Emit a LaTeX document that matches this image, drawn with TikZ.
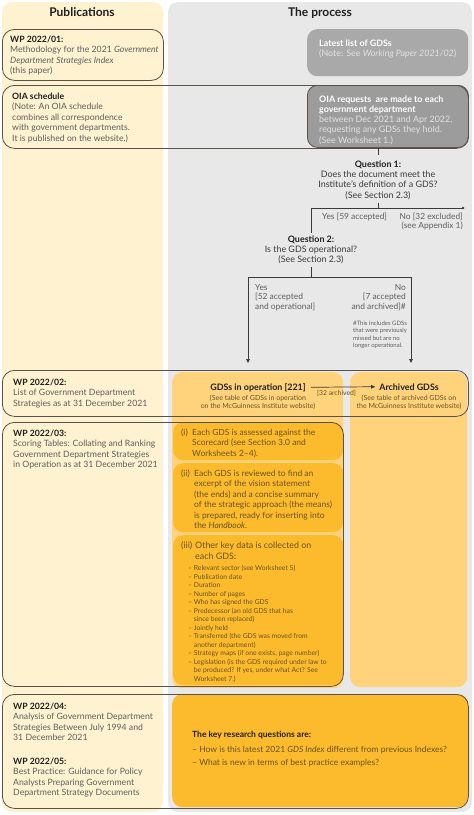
\documentclass[tikz,border=0pt]{standalone}
\usepackage{fontspec}
\setmainfont{Lato}
\usepackage{tikz}
\usetikzlibrary{arrows.meta,positioning}
\definecolor{GdsCream}{HTML}{FEF2D0}
\definecolor{GdsGrey}{HTML}{E8E8E8}
\definecolor{GdsStone}{HTML}{A9A9A9}
\definecolor{GdsSlate}{HTML}{9C9C9C}
\definecolor{GdsMist}{HTML}{E2E2E2}
\definecolor{GdsPale}{HTML}{FFD27C}
\definecolor{GdsAmber}{HTML}{FCBB2C}
\definecolor{GdsLine}{HTML}{5A5248}
\definecolor{GdsInk}{HTML}{1F1F1F}
\definecolor{GdsDark}{HTML}{3A3A3A}
\definecolor{GdsText}{HTML}{5E5E5E}
\definecolor{GdsBrown}{HTML}{6B5224}
\tikzset{
  column/.style={rounded corners=10pt},
  rowbox/.style={rectangle,rounded corners=12pt,draw=GdsLine,line width=0.8pt,anchor=north west},
  greybox/.style={rectangle,rounded corners=10pt,anchor=north west},
  palebox/.style={rectangle,rounded corners=10pt,fill=GdsPale,anchor=north west},
  amberbox/.style={rectangle,rounded corners=10pt,fill=GdsAmber,anchor=north west},
  head/.style={font=\fontsize{12}{14}\selectfont\bfseries,text=GdsInk,anchor=base},
  pubtext/.style={font=\fontsize{8.7}{10.6}\selectfont,text=GdsText,align=left,anchor=base west},
  greytext/.style={font=\fontsize{8.9}{10.3}\selectfont,text=GdsMist,align=left,anchor=base west},
  flowtext/.style={font=\fontsize{8.9}{10.4}\selectfont,text=GdsDark},
  branchtext/.style={font=\fontsize{8.4}{9.9}\selectfont,text=GdsText},
  notetext/.style={font=\fontsize{6}{7.6}\selectfont,text=GdsText,align=left,anchor=base west},
  ophead/.style={font=\fontsize{8.9}{10}\selectfont\bfseries,text=GdsInk,anchor=base},
  opnote/.style={font=\fontsize{7}{8.3}\selectfont,text=GdsBrown,align=center,anchor=base},
  steptext/.style={font=\fontsize{8.5}{10.5}\selectfont,text=GdsBrown,align=left,anchor=base west},
  listtext/.style={font=\fontsize{6.8}{8.5}\selectfont,text=GdsBrown,align=left,anchor=base west},
  flowline/.style={line width=0.7pt,color=GdsDark},
  arrow/.style={-{Triangle[length=4pt,width=3.6pt]},line width=0.7pt,color=GdsDark},
}

\begin{document}
\begin{tikzpicture}[x=1pt, y=-1pt, every node/.style={inner sep=0pt}]
  \useasboundingbox (0,0) rectangle (474,815);

  % ── Columns ──
  \fill[GdsCream, column] (2,2) rectangle (163,812);
  \fill[GdsGrey, column] (168,2) rectangle (472,812);
  \node[head] (pubhead) at (82,16) {Publications};
  \node[head] (prochead) at (320,16) {The process};

  % ── Process boxes ──
  \node[greybox, fill=GdsStone, minimum width=161pt, minimum height=47pt] (latest) at (307,29) {};
  \node[greybox, fill=GdsSlate, draw=GdsLine, line width=0.8pt, minimum width=161pt, minimum height=62pt] (oiareq) at (307,85) {};
  \node[palebox, minimum width=171pt, minimum height=316pt] (opcol) at (172,372) {};
  \node[palebox, minimum width=117pt, minimum height=315pt] (archcol) at (350,372) {};
  \node[amberbox, minimum width=170pt, minimum height=38pt] (stepone) at (173,422) {};
  \node[amberbox, minimum width=170pt, minimum height=69pt] (steptwo) at (173,463) {};
  \node[amberbox, minimum width=170pt, minimum height=150pt] (stepthree) at (173,535) {};
  \node[amberbox, minimum width=296pt, minimum height=113pt] (keybox) at (172,694) {};

  % ── Row outlines ──
  \node[rowbox, minimum width=161pt, minimum height=51pt] (rowone) at (2,29) {};
  \node[rowbox, minimum width=466pt, minimum height=63pt] (rowtwo) at (2,85) {};
  \node[rowbox, minimum width=466pt, minimum height=46pt] (rowthree) at (2,370) {};
  \node[rowbox, minimum width=341pt, minimum height=264pt] (rowfour) at (2,422) {};
  \node[rowbox, minimum width=466pt, minimum height=114pt] (rowfive) at (2,694) {};

  % ── Publications (placed at the baseline of the last line) ──
  \node[pubtext] (wp01) at (10,73.8) {{\color{GdsInk}\bfseries WP 2022/01:}\\Methodology for the 2021 \textit{Government}\\\textit{Department Strategies Index}\\(this paper)};
  \node[pubtext] (oiasched) at (12,141.4) {{\color{GdsInk}\bfseries OIA schedule}\\(Note: An OIA schedule\\combines all correspondence\\with government departments.\\It is published on the website.)};
  \node[pubtext] (wp02) at (13,406.2) {{\color{GdsInk}\bfseries WP 2022/02:}\\List of Government Department\\Strategies as at 31 December 2021};
  \node[pubtext] (wp03) at (13,467.8) {{\color{GdsInk}\bfseries WP 2022/03:}\\Scoring Tables: Collating and Ranking\\Government Department Strategies\\in Operation as at 31 December 2021};
  \node[pubtext] (wp04) at (13,740.8) {{\color{GdsInk}\bfseries WP 2022/04:}\\Analysis of Government Department\\Strategies Between July 1994 and\\31 December 2021};
  \node[pubtext] (wp05) at (13,795.8) {{\color{GdsInk}\bfseries WP 2022/05:}\\Best Practice: Guidance for Policy\\Analysts Preparing Government\\Department Strategy Documents};

  % ── Requests ──
  \node[greytext] (latesttxt) at (319,56.3) {{\color{white}\bfseries Latest list of GDSs}\\(Note: See \textit{Working Paper 2021/02})};
  \node[greytext] (oiatxt) at (319,143.2) {{\color{white}\bfseries OIA requests\ \ are made to each}\\{\color{white}\bfseries government department}\\between Dec 2021 and Apr 2022,\\requesting any GDSs they hold.\\(See Worksheet 1.)};

  % ── Questions ──
  \node[flowtext, align=center, anchor=base] (q1) at (378,198.2) {{\color{GdsInk}\bfseries Question 1:}\\Does the document meet the\\Institute's definition of a GDS?\\(See Section 2.3)};
  \node[branchtext, anchor=base west] (yesone) at (322,219) {Yes [59 accepted]};
  \node[branchtext, align=right, anchor=base east] (noone) at (463,228.9) {No [32 excluded]\\(see Appendix 1)};
  \node[flowtext, align=center, anchor=base] (q2) at (311,262.8) {{\color{GdsInk}\bfseries Question 2:}\\Is the GDS operational?\\(See Section 2.3)};
  \node[branchtext, align=left, anchor=base west] (yestwo) at (255,309.8) {Yes\\{[52 accepted}\\and operational]};
  \node[branchtext, align=right, anchor=base east] (notwo) at (406,309.8) {No\\{[7 accepted}\\and archived]\#};
  \node[notetext] (hashnote) at (353,347.8) {\#This includes GDSs\\that were previously\\missed but are no\\longer operational.};

  \coordinate (noend) at (463,208);
  \coordinate (q2split) at (311,277);
  \coordinate (yesend) at (248,363);
  \coordinate (noarch) at (411,363);
  \draw[flowline] (q1.north |- oiareq.south) -- ++(0,7);
  \draw[flowline] ([yshift=-3pt]q1.south) -- (q1.south |- noend);
  \draw[flowline] ([yshift=2pt]q2.north) |- (noend);
  \fill[GdsDark] (noend) circle (1.4pt);
  \draw[flowline] ([yshift=-3pt]q2.south) -- (q2split);
  \draw[arrow] (q2split) -| (yesend);
  \draw[arrow] (q2split) -| (noarch);

  % ── GDS tables ──
  \node[ophead] (ophd) at (258,390) {GDSs in operation [221]};
  \node[opnote] (opnote) at (258,408.3) {(See table of GDSs in operation\\on the McGuinness Institute website)};
  \node[ophead] (archhd) at (409,390) {Archived GDSs};
  \node[opnote] (archnote) at (409,408.3) {(See table of archived GDSs on\\the McGuinness Institute website)};
  \draw[arrow] ([xshift=5pt]ophd.east) -- node[pos=0.4, below=2.5pt, font=\fontsize{6.8}{8}\selectfont, text=GdsBrown] (archlbl) {[32 archived]} ([xshift=-4pt]archhd.west);

  % ── Steps ──
  \node[steptext] (numi) at (181,435) {(i)};
  \node[steptext] (txti) at (192,456) {Each GDS is assessed against the\\Scorecard (see Section 3.0 and\\Worksheets 2--4).};
  \node[steptext] (numii) at (181,476) {(ii)};
  \node[steptext] (txtii) at (194,528.5) {Each GDS is reviewed to find an\\excerpt of the vision statement\\(the ends) and a concise summary\\of the strategic approach (the means)\\is prepared, ready for inserting into\\the \textit{Handbook}.};
  \node[steptext, font=\fontsize{8.9}{11.7}\selectfont] (numiii) at (181,548) {(iii)};
  \node[steptext, font=\fontsize{8.9}{11.7}\selectfont] (txtiii) at (195,559.7) {Other key data is collected on\\each GDS:};
  \node[listtext] (keydata) at (188,681) {-- Relevant sector (see Worksheet 5)\\-- Publication date\\-- Duration\\-- Number of pages\\-- Who has signed the GDS\\-- Predecessor (an old GDS that has\\\hphantom{-- }since been replaced)\\-- Jointly held\\-- Transferred (the GDS was moved from\\\hphantom{-- }another department)\\-- Strategy maps (if one exists, page number)\\-- Legislation (is the GDS required under law to\\\hphantom{-- }be produced? If yes, under what Act? See\\\hphantom{-- }Worksheet 7.)};

  % ── Key questions ──
  \node[steptext] (keyq) at (192,765.5) {{\color{GdsInk}\bfseries The key research questions are:}\\[4pt]-- How is this latest 2021 \textit{GDS Index} different from previous Indexes?\\[3pt]-- What is new in terms of best practice examples?};
\end{tikzpicture}
\end{document}
